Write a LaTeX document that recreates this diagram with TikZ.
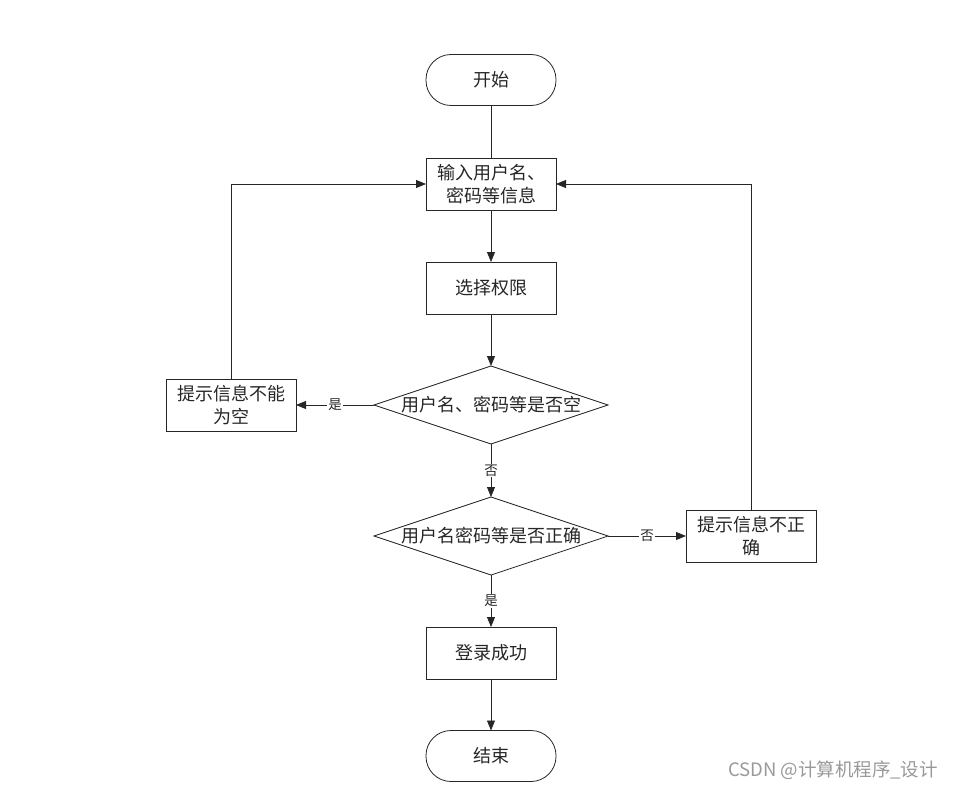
\documentclass[tikz,border=0pt]{standalone}
\usepackage{fontspec}
\setmainfont{Noto Sans CJK SC}
\usetikzlibrary{shapes.geometric,arrows.meta}
\begin{document}
\begin{tikzpicture}[x=1pt,y=-1pt,
  conn/.style={line width=0.8pt, draw=black!85},
  box/.style={draw=black!85, line width=0.8pt, minimum width=130pt, minimum height=52pt,
    inner sep=0pt, outer sep=0pt, align=center, text=black!85,
    font=\fontsize{18pt}{23pt}\selectfont},
  term/.style={box, rounded corners=25pt, minimum height=51pt},
  dia/.style={draw=black!85, diamond, minimum width=234pt, minimum height=78pt,
    inner sep=0pt, outer sep=0pt, line width=0.8pt},
  diatext/.style={text=black!85, font=\fontsize{18pt}{23pt}\selectfont},
  lbl/.style={fill=white, inner sep=1pt, text=black!85, font=\fontsize{13.5pt}{13.5pt}\selectfont},
  arr/.style={conn, -{Triangle[length=10pt,width=8pt]}}
]
\useasboundingbox (0,0) rectangle (959,789);

\node[term] (start) at (491,80) {开始};
\node[box] (in) at (491,184) {输入用户名、\\密码等信息};
\node[box] (sel) at (491,288) {选择权限};
\node[dia, label={[diatext]center:用户名、密码等是否空}] (d1) at (491,405) {};
\node[box] (lb) at (231,405) {提示信息不能\\为空};
\node[dia, label={[diatext]center:用户名密码等是否正确}] (d2) at (491,536) {};
\node[box] (rb) at (751,536) {提示信息不正\\确};
\node[box] (ok) at (491,653) {登录成功};
\node[term] (end) at (491,756) {结束};

\node[text=black!40, font=\fontsize{18.5pt}{18.5pt}\selectfont] (wm) at (833,770) {CSDN @计算机程序\_设计};

\draw[conn] (start) -- (in);
\draw[arr] (in) -- (sel);
\draw[arr] (sel) -- (d1);
\draw[arr] (d1.west) -- node[lbl] (l1) {是} (lb.east);
\draw[arr] (lb.north) |- (in.west);
\draw[arr] (d1.south) -- node[lbl] (l2) {否} (d2.north);
\draw[arr] (d2.east) -- node[lbl] (l3) {否} (rb.west);
\draw[arr] (rb.north) |- (in.east);
\draw[arr] (d2.south) -- node[lbl] (l4) {是} (ok.north);
\draw[arr] (ok) -- (end);
\end{tikzpicture}
\end{document}
